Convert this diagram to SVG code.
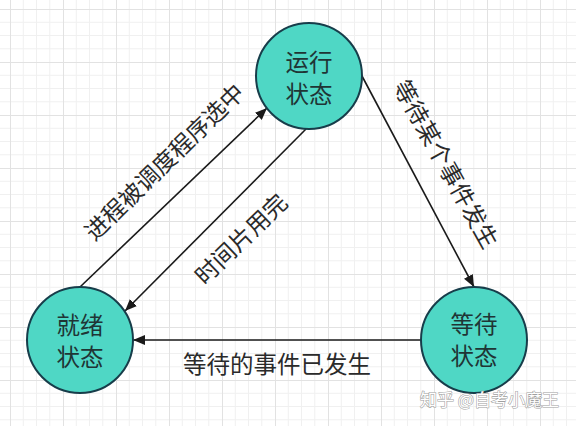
<svg xmlns="http://www.w3.org/2000/svg" width="576" height="426" viewBox="0 0 576 426">
  <defs>
    <pattern id="grid" x="10" y="9" width="53" height="53" patternUnits="userSpaceOnUse">
      <path d="M13.25 0V53M26.5 0V53M39.75 0V53M0 13.25H53M0 26.5H53M0 39.75H53" stroke="#f0f0f0" stroke-width="1" fill="none"/>
      <path d="M0.5 0V53M0 0.5H53" stroke="#e2e2e2" stroke-width="1" fill="none"/>
    </pattern>
    <marker id="arrow" viewBox="0 0 12 10" refX="12" refY="5" markerWidth="12" markerHeight="10" markerUnits="userSpaceOnUse" orient="auto">
      <path d="M0 0L12 5L0 10Z" fill="#1a1a1a"/>
    </marker>
    <style>
      .node circle { fill: #4fd7c5; stroke: #173d4a; stroke-width: 2; }
      .node text { font-family: "Noto Sans CJK SC", "Noto Sans", sans-serif; font-size: 23.5px; fill: #1f3535; text-anchor: middle; }
      .edge { stroke: #1a1a1a; stroke-width: 1.6; fill: none; marker-end: url(#arrow); }
      .label { font-family: "Noto Sans CJK SC", "Noto Sans", sans-serif; font-size: 23.5px; fill: #2a2a2a; text-anchor: middle; dominant-baseline: central; }
      .wm { font-family: "Noto Sans CJK SC", "Noto Sans", sans-serif; font-size: 17px; fill: #ffffff; stroke: #a0a0a0; stroke-width: 1.1; paint-order: stroke; }
    </style>
  </defs>
  <rect width="576" height="426" fill="#ffffff"/>
  <rect width="576" height="426" fill="url(#grid)"/>

  <g id="connectors">
    <line class="edge" x1="80" y1="287" x2="267" y2="108"/>
    <line class="edge" x1="306" y1="129" x2="125" y2="311"/>
    <line class="edge" x1="362" y1="76" x2="474" y2="287"/>
    <line class="edge" x1="421" y1="340" x2="133" y2="340"/>
    <text class="label" transform="translate(163.5 161) rotate(-44.3)">进程被调度程序选中</text>
    <text class="label" transform="translate(240 238) rotate(-44)">时间片用完</text>
    <text class="label" transform="translate(447 163.5) rotate(60.8)">等待某个事件发生</text>
    <text class="label" x="277" y="363">等待的事件已发生</text>
  </g>

  <g id="run" class="node">
    <circle cx="309" cy="76" r="53"/>
    <text x="309" y="71">运行</text>
    <text x="309" y="103">状态</text>
  </g>
  <g id="ready" class="node">
    <circle cx="80" cy="340" r="53"/>
    <text x="80" y="334">就绪</text>
    <text x="80" y="366">状态</text>
  </g>
  <g id="wait" class="node">
    <circle cx="474" cy="340" r="53"/>
    <text x="474" y="333">等待</text>
    <text x="474" y="365">状态</text>
  </g>

  <text class="wm" x="420" y="406">知乎 @自考小魔王</text>
</svg>
